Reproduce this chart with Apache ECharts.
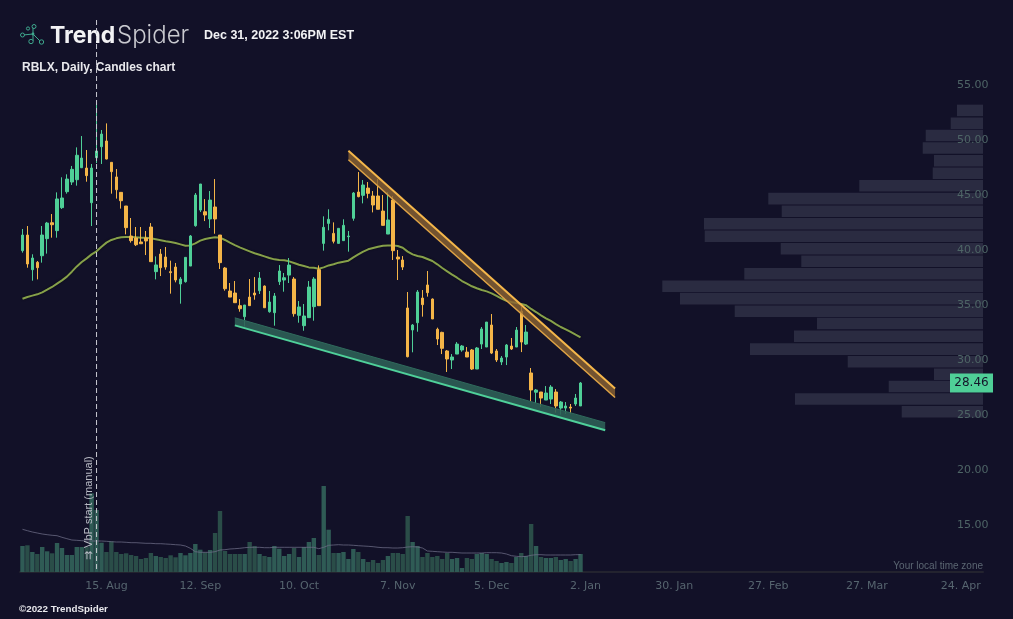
<!DOCTYPE html>
<html><head><meta charset="utf-8">
<script src="https://cdn.jsdelivr.net/npm/echarts@6/dist/echarts.min.js"></script>
<style>html,body{margin:0;padding:0;background:#121128;}#c{width:1013px;height:619px;}</style>
</head><body><div id="c"></div>
<script>
// ---------- DATA ----------
const startDate = '2022-07-21';
const slotCount = 195;
const holidays = ['2022-09-05','2022-11-24','2022-12-26','2023-01-02','2023-01-16','2023-02-20','2023-04-07'];
// [open, close, low, high]
const ohlc = [
[39.94,41.36,39.76,41.91],[41.36,38.73,38.39,42.18],[38.21,39.27,37.21,39.61],[38.88,38.39,37.33,39.00],
[39.48,41.36,38.85,42.18],[41.03,42.45,39.67,42.55],[42.48,42.30,41.12,43.27],[41.76,44.64,41.12,45.24],
[43.85,44.73,43.73,46.61],[45.30,46.45,45.12,46.88],[46.18,47.33,45.91,47.64],[46.39,48.61,45.85,49.33],
[47.48,48.36,47.45,50.36],[47.45,46.76,46.21,49.09],[44.30,47.45,42.18,47.82],[48.39,49.00,47.90,53.34],
[49.39,50.54,47.82,50.91],[49.91,48.27,48.24,51.51],[47.97,47.12,45.12,47.97],[46.64,45.48,44.67,47.36],
[45.24,44.48,43.76,45.24],[44.00,42.03,41.42,44.00],[41.27,40.85,40.67,42.91],[41.09,40.48,40.36,42.09],
[40.73,40.57,40.57,42.09],[41.09,40.82,39.54,41.73],[42.09,38.94,38.94,42.45],[38.03,38.64,37.33,39.42],
[39.63,38.39,37.63,40.09],[39.36,38.45,38.21,40.27],[38.03,37.94,36.03,39.03],[38.45,37.27,37.06,38.82],
[36.91,37.36,35.12,37.54],[37.12,39.33,37.03,39.33],[38.54,41.27,38.54,41.36],[42.21,45.00,42.12,45.18],
[43.63,46.00,43.45,46.00],[43.48,43.18,42.63,44.63],[42.82,44.54,42.00,45.36],[43.91,42.82,41.48,46.45],
[41.36,38.85,38.27,41.36],[38.36,36.48,36.30,38.45],[36.27,35.72,35.72,37.00],[36.09,35.21,35.21,37.18],
[34.94,34.66,34.39,35.54],[33.94,35.00,33.03,35.00],[35.72,34.94,34.94,37.36],[36.09,35.91,35.48,37.54],
[36.30,37.45,36.00,38.00],[36.72,34.75,34.75,36.78],[34.39,35.27,34.30,36.27],[34.30,35.82,33.12,36.09],
[37.12,38.09,36.82,38.63],[37.27,37.48,36.21,37.91],[37.72,38.63,37.00,39.27],[37.36,34.21,33.94,37.54],
[34.06,34.82,33.39,35.36],[33.12,34.00,32.66,35.09],[33.85,36.63,33.85,37.18],[34.85,37.36,33.57,37.54],
[38.21,34.94,34.94,38.60],[40.60,42.06,39.94,43.06],[42.42,42.79,41.79,43.70],[41.51,40.79,40.60,42.51],
[40.60,41.97,40.60,41.97],[40.85,42.24,40.85,42.79],[41.21,41.27,39.85,41.73],[42.88,45.18,42.66,45.27],
[45.27,44.85,44.79,47.09],[44.97,45.91,44.24,46.36],[45.63,45.15,44.70,46.18],[44.91,44.09,43.42,45.36],
[44.91,43.70,43.70,46.45],[43.54,42.24,42.24,45.00],[41.45,42.73,41.45,45.27],[44.54,39.94,39.09,44.91],
[39.36,39.18,37.27,40.00],[39.09,38.45,38.18,39.45],[34.73,30.30,30.24,36.18],[32.73,33.18,30.70,33.27],
[33.39,36.18,32.57,36.36],[35.63,35.03,33.94,36.36],[36.82,36.12,35.76,38.09],[35.54,33.73,33.73,35.60],
[32.79,31.91,31.36,32.94],[32.51,31.06,30.54,32.57],[30.82,30.09,28.91,30.91],[30.00,30.27,29.18,30.54],
[30.54,31.45,30.54,31.63],[30.91,31.27,30.75,31.36],[30.72,30.27,30.27,31.18],[30.91,29.18,29.09,31.00],
[29.18,31.09,29.18,31.18],[31.45,32.82,31.00,33.00],[31.18,33.45,31.18,33.45],[33.18,30.63,30.54,34.18],
[30.82,30.00,29.82,31.00],[29.82,30.18,29.54,30.36],[30.27,31.36,29.54,31.45],[31.27,31.00,30.91,32.00],
[31.18,32.72,31.18,33.00],[34.45,31.63,30.72,34.85],[31.45,32.54,31.36,33.18],[28.82,27.27,26.27,29.27],
[27.07,27.27,26.09,27.36],[27.09,26.54,25.72,27.09],[26.36,27.00,26.36,27.63],[26.45,27.54,26.00,27.72],
[27.09,25.82,25.21,27.36],[25.63,26.18,25.03,26.27],[25.63,25.82,25.09,26.18],[25.72,25.63,25.12,26.00],
[26.00,26.54,25.82,26.91],[25.82,27.91,25.82,28.00]
];
const volume = [26,26.7,20,18,25,20.7,18.7,29,24,17,17,25,25,25,78.7,62,29.3,20,30.7,20,18,18.7,17,16,13,14,19,16,
15,14,16.7,14.7,19,16.7,19,28,22.3,19.7,22,39,61,21,18,18,18,18,30,26,18,16,15,26,23.3,16,18,24,
15,25,30,34,17,86,42.3,19,19,20,13,23,20,13,10,12,9,12,16,19,19,18,56,30,26,15,19,15,
16,13,19,13,14,4,14,13,18,19,18,13,11,9,10,9,15,19,16,48,26,15,14,14,15,12,13,11,13,18];
const priceMA = [35.57,35.73,35.85,35.97,36.15,36.39,36.64,36.94,37.24,37.58,38.03,38.51,38.91,39.24,39.6,39.88,40.3,40.67,40.91,41.06,
41.15,41.18,41.18,41.15,41.12,41.12,41.06,40.97,40.88,40.79,40.72,40.63,40.51,40.39,40.42,40.6,40.85,41.0,41.09,41.15,
41.12,40.91,40.67,40.45,40.24,40.06,39.88,39.7,39.57,39.42,39.27,39.15,39.09,39.06,38.97,38.82,38.66,38.54,38.42,38.39,
38.3,38.42,38.6,38.7,38.85,38.94,39.03,39.33,39.6,39.85,40.06,40.18,40.3,40.39,40.42,40.42,40.36,40.21,39.85,39.6,
39.45,39.36,39.18,39.0,38.7,38.36,38.06,37.76,37.48,37.18,36.94,36.7,36.52,36.36,36.24,36.06,35.82,35.58,35.39,35.27,
35.18,35.09,34.97,34.64,34.36,34.06,33.79,33.55,33.27,33.0,32.79,32.55,32.3,32.06];
const volumeMA = [42.7,41.3,40,39,38,37.3,36.7,36.3,34.7,33.3,32,31.7,31.3,31,31,31,31,30.7,30.3,30,
30,29.7,29.3,29.3,29,28.7,28.7,28.3,28.3,28,27.7,27.3,27,26,23.7,20.3,19.7,19.7,19.7,20.3,
22,22.3,23,23.3,23.7,24.3,24.7,24.7,24.7,24.3,24.3,24.7,24.7,24.7,24.7,24.7,24.7,24.7,24.7,24.7,
23.3,24.7,26.7,27,27.3,27,27,26.7,26.3,26,25.7,25.3,24.7,24.3,24.3,24,24,24.3,25,25.3,
25,24,21,20.7,20.3,20,19.7,19.7,19.3,19,19,19,19,19,19.3,19.3,19.3,19,18,16.3,
15.7,15.3,15.7,16.7,17.3,17.3,17,17,17,17,17,17,17.3,17.3];
// volume-by-price profile (bin centre price, relative volume)
const vpPrice = [52.69,51.52,50.40,49.28,48.11,46.98,45.85,44.67,43.53,42.38,41.25,40.11,38.98,37.85,36.71,35.58,34.44,33.31,32.16,30.99,29.85,28.70,27.59,26.46,25.29];
const vpVolume = [26,32.3,57.3,60.3,49,50.3,123.7,214.7,201.3,279,278.3,202.3,181.7,238.7,320.7,303,248.3,166,189,233,135.3,49,94.3,188,81.3];
const vpHalf = 0.57;
const xTickDates = ['2022-08-15','2022-09-12','2022-10-10','2022-11-07','2022-12-05','2023-01-02','2023-01-30','2023-02-27','2023-03-27','2023-04-24'];
const priceTicks = [15,20,25,30,35,40,45,50,55];
const upperTrend = [['2022-10-24',48.61],['2023-01-11',27.0]];
const lowerTrend = [['2022-09-21',33.49],['2023-01-09',23.96]];
const vbpStartDate = '2022-08-11';
const lastQuote = '28.46';

// ---------- BUILD ----------
function iso(d){return d.toISOString().slice(0,10);}
function buildDays(start,n){const out=[];const d=new Date(start+'T12:00:00Z');
  while(out.length<n){const wd=d.getUTCDay();const s=iso(d);if(wd!==0&&wd!==6&&holidays.indexOf(s)<0)out.push(s);d.setUTCDate(d.getUTCDate()+1);}return out;}
const days = buildDays(startDate, slotCount);
const months=['Jan','Feb','Mar','Apr','May','Jun','Jul','Aug','Sep','Oct','Nov','Dec'];
const tickMap={};
xTickDates.forEach(t=>{const i=days.findIndex(d=>d>=t);const dt=new Date(t+'T12:00:00Z');tickMap[i]=dt.getUTCDate()+'. '+months[dt.getUTCMonth()];});
const showTick=(i)=>tickMap.hasOwnProperty(i);

const GREEN='#4fcf97', ORANGE='#f4b548';
const volData = volume.map((v,i)=>({value:v,itemStyle:{color: ohlc[i][1]>=ohlc[i][0] ? '#2f5b55' : '#2a4d48'}}));

function bandRender(st){return function(params,api){
  const a=api.coord([api.value(0),api.value(1)]);const b=api.coord([api.value(2),api.value(3)]);const h=st.half;
  return {type:'group',children:[
    {type:'polygon',shape:{points:[[a[0],a[1]-h],[b[0],b[1]-h],[b[0],b[1]+h],[a[0],a[1]+h]]},style:{fill:st.fill}},
    {type:'line',shape:{x1:a[0],y1:a[1]-h,x2:b[0],y2:b[1]-h},style:{stroke:st.top,lineWidth:st.topW}},
    {type:'line',shape:{x1:a[0],y1:a[1]+h,x2:b[0],y2:b[1]+h},style:{stroke:st.bottom,lineWidth:st.botW}}
  ]};};}
const trendData=(t)=>[[days.indexOf(t[0][0]),t[0][1],days.indexOf(t[1][0]),t[1][1]]];

const chart = echarts.init(document.getElementById('c'),null,{renderer:'canvas'});
const option = {
  backgroundColor:'#121128',
  animation:false,
  grid:[
    {left:20,right:30,top:19,bottom:39},
    {left:20,right:30,bottom:47,height:100},
    {left:20,right:30,top:19,bottom:39}
  ],
  xAxis:[
    {type:'category',gridIndex:0,data:days,boundaryGap:true,show:false},
    {type:'category',gridIndex:1,data:days,boundaryGap:true,
     axisLine:{lineStyle:{color:'#23232f',width:2}},
     axisTick:{alignWithLabel:true,interval:showTick,length:7,lineStyle:{color:'#4d6a70'}},
     axisLabel:{interval:showTick,formatter:(v,i)=>tickMap[i]||'',color:'#56656f',fontFamily:'DejaVu Sans',fontSize:11,margin:9},
     splitLine:{show:false}},
    {type:'value',gridIndex:2,min:0,max:963,inverse:true,show:false}
  ],
  yAxis:[
    {type:'value',gridIndex:0,position:'right',offset:-31,min:10,max:61,interval:5,z:10,
     axisLine:{show:false},axisTick:{show:false},splitLine:{show:false},
     axisLabel:{margin:5,color:'#4e6566',fontFamily:'DejaVu Sans',fontSize:11,
       formatter:(v)=>priceTicks.indexOf(v)>=0?v.toFixed(2):''}},
    {type:'value',gridIndex:1,min:0,max:100,show:false},
    {type:'value',gridIndex:2,min:10,max:61,show:false}
  ],
  series:[
    {type:'custom',name:'VbP',xAxisIndex:2,yAxisIndex:2,z:1,silent:true,
     data:vpPrice.map((p,i)=>[vpVolume[i],p]),
     renderItem:(params,api)=>{const v=api.value(0),p=api.value(1);
       const r=api.coord([0,p+vpHalf]);const l=api.coord([v,p-vpHalf]);
       return {type:'rect',shape:{x:l[0],y:r[1]+0.5,width:r[0]-l[0],height:l[1]-r[1]-1},style:{fill:'#2a2b41'}};}},
    {type:'bar',name:'Volume',xAxisIndex:1,yAxisIndex:1,data:volData,barWidth:4.4,z:2},
    {type:'line',name:'Vol MA',xAxisIndex:1,yAxisIndex:1,data:volumeMA,showSymbol:false,z:3,
     lineStyle:{color:'rgba(110,110,135,0.75)',width:1}},
    {type:'line',name:'MA',xAxisIndex:0,yAxisIndex:0,data:priceMA,showSymbol:false,z:3,
     lineStyle:{color:'#86a04a',width:2,shadowColor:'rgba(0,0,0,0.6)',shadowBlur:2}},
    {type:'candlestick',name:'RBLX',xAxisIndex:0,yAxisIndex:0,data:ohlc,barWidth:3,z:4,
     itemStyle:{color:GREEN,color0:ORANGE,borderColor:GREEN,borderColor0:ORANGE,borderWidth:1}},
    {type:'custom',name:'Upper trend',xAxisIndex:0,yAxisIndex:0,z:5,silent:true,data:trendData(upperTrend),
     renderItem:bandRender({half:4.5,fill:'rgba(140,100,50,0.8)',top:'#f5b74a',topW:2,bottom:'#e0a445',botW:1.5})},
    {type:'custom',name:'Lower trend',xAxisIndex:0,yAxisIndex:0,z:5,silent:true,data:trendData(lowerTrend),
     renderItem:bandRender({half:3.8,fill:'rgba(45,95,85,0.9)',top:'#2f6a5c',topW:1,bottom:'#4fd09a',botW:2})}
  ]
};
chart.setOption(option);

const vx = chart.convertToPixel({xAxisIndex:0}, vbpStartDate);
const lastClose = ohlc[ohlc.length-1][1];
const ly = chart.convertToPixel({yAxisIndex:0}, lastClose);
const ic='#3fa88e';
chart.setOption({graphic:[
  {type:'group',children:[
    {type:'line',shape:{x1:23,y1:35,x2:33,y2:34},style:{stroke:ic,lineWidth:1}},
    {type:'line',shape:{x1:33,y1:27,x2:33,y2:41},style:{stroke:ic,lineWidth:1}},
    {type:'line',shape:{x1:33,y1:34,x2:40,y2:41},style:{stroke:ic,lineWidth:1}},
    {type:'circle',shape:{cx:22.5,cy:35,r:2},style:{fill:'#121128',stroke:ic,lineWidth:1}},
    {type:'circle',shape:{cx:28,cy:28.5,r:1.6},style:{fill:'#121128',stroke:ic,lineWidth:1}},
    {type:'circle',shape:{cx:34,cy:26.5,r:2},style:{fill:'#121128',stroke:ic,lineWidth:1}},
    {type:'circle',shape:{cx:33,cy:34,r:1.4},style:{fill:ic}},
    {type:'circle',shape:{cx:31,cy:41.5,r:2.2},style:{fill:'#121128',stroke:ic,lineWidth:1}},
    {type:'circle',shape:{cx:41.5,cy:42,r:2.2},style:{fill:'#121128',stroke:ic,lineWidth:1}}
  ]},
  {type:'text',x:50,y:36,style:{text:'Trend',fill:'#f2f2f4',font:'bold 23px Inter',verticalAlign:'middle'}},
  {type:'text',x:117,y:36,style:{text:'Spider',fill:'#c9cad0',font:'300 24px Inter',verticalAlign:'middle'}},
  {type:'text',x:204,y:36,style:{text:'Dec 31, 2022 3:06PM EST',fill:'#f2f2f4',font:'bold 12.5px "Liberation Sans"',verticalAlign:'middle'}},
  {type:'text',x:22,y:68,style:{text:'RBLX, Daily, Candles chart',fill:'#e8e8ec',font:'bold 12px "Liberation Sans"',verticalAlign:'middle'}},
  {type:'text',x:19,y:609,style:{text:'©2022 TrendSpider',fill:'#e8e8ec',font:'bold 9.8px "Liberation Sans"',verticalAlign:'middle'}},
  {type:'text',x:983,y:566,style:{text:'Your local time zone',fill:'#5b6672',font:'10px "Liberation Sans"',align:'right',verticalAlign:'middle'}},
  {type:'line',z:50,shape:{x1:vx,y1:20,x2:vx,y2:572},style:{stroke:'#c9c9d2',lineWidth:1,lineDash:[5,3]}},
  {type:'text',z:50,x:89,y:560,rotation:Math.PI/2,style:{text:'⇉ VbP start (manual)',fill:'#b9bbc5',font:'11px "Liberation Sans"',align:'left',verticalAlign:'middle'}},
  {type:'rect',z:60,shape:{x:950,y:ly-9.5,width:43,height:19},style:{fill:GREEN}},
  {type:'text',z:61,x:971.5,y:ly,style:{text:lastQuote,fill:'#14152a',font:'12px "DejaVu Sans"',align:'center',verticalAlign:'middle'}}
]});
</script></body></html>
